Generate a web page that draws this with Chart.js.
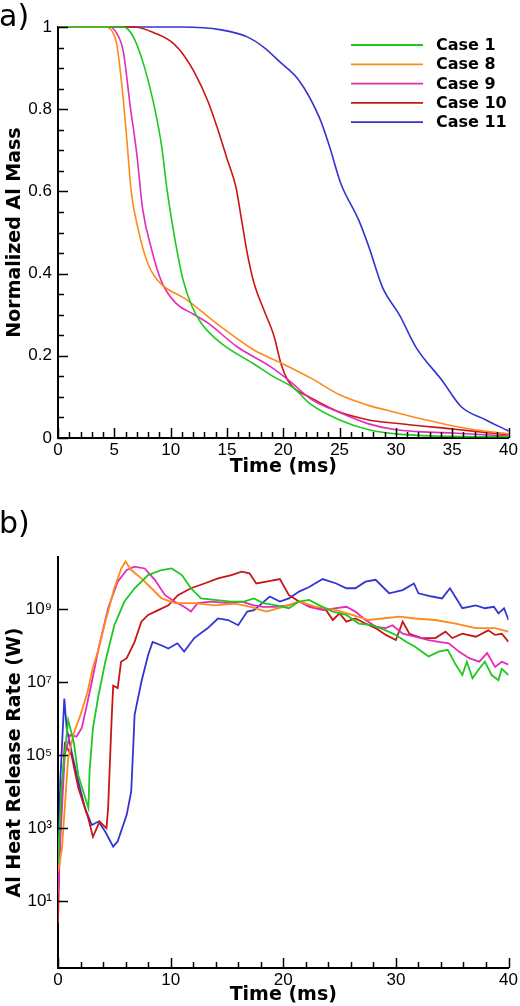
<!DOCTYPE html>
<html>
<head>
<meta charset="utf-8">
<script src="https://cdn.jsdelivr.net/npm/chart.js@4.4.1/dist/chart.umd.min.js"></script>
<style>
  html, body { margin: 0; padding: 0; background: #fff; }
  body { width: 520px; height: 1006px; position: relative; overflow: hidden; }
  canvas { position: absolute; left: 0; }
  #massChart { top: 0; }
  #hrrChart { top: 490px; }
  .panel { position: absolute; left: -1px; font-family: "DejaVu Sans"; font-size: 30px; line-height: 30px; color: #000; }
</style>
</head>
<body>
<canvas id="massChart" width="520" height="478"></canvas>
<canvas id="hrrChart" width="520" height="516"></canvas>
<div class="panel" style="top:1px">a)</div>
<div class="panel" style="top:508px">b)</div>
<script>
const caseNames = ['Case 1', 'Case 8', 'Case 9', 'Case 10', 'Case 11'];

// (a) normalized Al mass vs time (ms)
const massTime1 = [0, 5.7, 6.2, 6.8, 7.7, 8.6, 9.2, 9.7, 10.4, 11.1, 11.9, 12.7, 14.5, 17.4, 18.9, 21, 22.3, 25, 27.6, 30, 35, 40];
const massCase1 = [1, 1, 0.995, 0.97, 0.90, 0.80, 0.71, 0.60, 0.48, 0.385, 0.32, 0.28, 0.23, 0.18, 0.153, 0.12, 0.085, 0.044, 0.02, 0.01, 0.004, 0.003];
const massTime8 = [0, 4.2, 4.8, 5.2, 5.7, 6.1, 6.5, 7.1, 7.9, 8.8, 11.5, 14.5, 17.4, 20, 22.5, 25, 27.5, 30, 32.5, 35, 37.5, 40];
const massCase8 = [1, 1, 0.99, 0.96, 0.85, 0.73, 0.60, 0.51, 0.43, 0.385, 0.335, 0.27, 0.214, 0.18, 0.145, 0.105, 0.08, 0.062, 0.045, 0.03, 0.018, 0.01];
const massTime9 = [0, 4.6, 5.2, 5.8, 6.4, 7.0, 7.5, 8.3, 9.2, 10.4, 12.1, 13.3, 15.9, 18.9, 20.5, 22.6, 25, 27.5, 30, 35, 40];
const massCase9 = [1, 1, 0.985, 0.94, 0.81, 0.69, 0.56, 0.46, 0.38, 0.33, 0.30, 0.28, 0.222, 0.173, 0.14, 0.092, 0.062, 0.035, 0.02, 0.012, 0.005];
const massTime10 = [0, 6.8, 8.6, 10.1, 11.2, 12.1, 13.3, 14.2, 15.0, 15.8, 16.3, 16.8, 17.4, 18.3, 19.2, 19.8, 20.4, 21, 22.3, 25, 27.6, 30, 35, 40];
const massCase10 = [1, 1, 0.985, 0.963, 0.93, 0.89, 0.82, 0.75, 0.68, 0.61, 0.53, 0.45, 0.377, 0.31, 0.246, 0.18, 0.14, 0.12, 0.1, 0.063, 0.044, 0.036, 0.022, 0.008];
const massTime11 = [0, 11, 14.5, 16.8, 18.3, 19.7, 21.4, 23.2, 24.1, 25.1, 26.7, 27.6, 28.8, 30.3, 31.8, 34.1, 35.8, 38, 40];
const massCase11 = [1, 1, 0.993, 0.976, 0.95, 0.915, 0.87, 0.78, 0.71, 0.62, 0.53, 0.465, 0.367, 0.30, 0.22, 0.14, 0.076, 0.044, 0.017];

// (b) Al heat release rate (W) vs time (ms)
const hrrTime1 = [0, 0.3, 0.9, 1.4, 1.8, 2.7, 2.8, 3.1, 3.6, 4.2, 5.0, 5.9, 6.8, 8.0, 9.2, 10.1, 11.0, 11.8, 12.7, 13.9, 15.4, 16.5, 17.4, 18.2, 19.4, 20.5, 21.4, 22.3, 23.2, 24.4, 25.6, 26.7, 27.9, 29.1, 30.0, 30.9, 31.7, 32.9, 33.8, 34.6, 35.3, 35.9, 36.3, 36.8, 37.4, 37.9, 38.5, 39.1, 39.4, 40];
const hrrCase1 = [100, 1.26e4, 9.1e5, 2.3e5, 2.8e4, 3.5e3, 3.5e4, 5.4e5, 4.4e6, 3.6e7, 3.6e8, 1.6e9, 3.7e9, 8.5e9, 1.17e10, 1.29e10, 8.5e9, 3.7e9, 1.95e9, 1.78e9, 1.6e9, 1.6e9, 1.95e9, 1.45e9, 1.26e9, 1.05e9, 1.6e9, 1.78e9, 1.26e9, 8.5e8, 6.9e8, 4.0e8, 3.6e8, 2.6e8, 1.95e8, 1.26e8, 9.3e7, 5.0e7, 6.8e7, 7.6e7, 3.0e7, 1.55e7, 3.6e7, 1.26e7, 2.3e7, 3.6e7, 1.55e7, 1.12e7, 2.3e7, 1.55e7];
const hrrTime8 = [0, 0.35, 0.9, 1.4, 2.0, 2.6, 3.1, 3.6, 4.2, 5.0, 5.6, 6.0, 6.5, 7.4, 8.3, 9.2, 10.4, 12.1, 13.9, 15.7, 17.1, 18.5, 20, 21.4, 22.9, 24.7, 26.1, 27.6, 28.8, 30.3, 31.7, 33.5, 35.3, 37.1, 38.8, 40];
const hrrCase8 = [63, 275, 7.9e4, 4.0e5, 1.26e6, 5.0e6, 2.5e7, 7.9e7, 4.5e8, 3.7e9, 1.26e10, 2.0e10, 1.17e10, 6.9e9, 3.7e9, 1.95e9, 1.45e9, 1.45e9, 1.26e9, 1.41e9, 1.15e9, 8.5e8, 1.15e9, 1.6e9, 1.15e9, 9.3e8, 6.9e8, 5.0e8, 5.5e8, 6.2e8, 5.5e8, 5.0e8, 4.0e8, 3.0e8, 3.0e8, 2.4e8];
const hrrTime9 = [0, 0.2, 0.6, 1.06, 1.65, 2.1, 2.5, 3.0, 3.6, 4.45, 5.3, 6.1, 6.8, 7.7, 8.6, 9.5, 10.35, 11.2, 11.8, 12.4, 13.6, 15.1, 16.3, 17.4, 18.2, 19.4, 20.5, 21.4, 22.3, 23.5, 24.7, 25.6, 26.4, 27.3, 28.2, 29.1, 29.7, 30.6, 31.7, 32.9, 33.8, 34.7, 35.6, 36.5, 37.4, 38.1, 38.8, 39.4, 40];
const hrrCase9 = [16, 400, 1e5, 3.5e5, 3.2e5, 5.4e5, 1.9e6, 1e7, 8.3e7, 1.05e9, 5.6e9, 1.17e10, 1.45e10, 1.29e10, 6.3e9, 2.4e9, 1.6e9, 1.15e9, 8.5e8, 1.45e9, 1.6e9, 1.45e9, 1.6e9, 1.26e9, 1.15e9, 1.15e9, 1.26e9, 1.6e9, 1.15e9, 9.3e8, 1.05e9, 1.15e9, 8.5e8, 5.0e8, 3.3e8, 3.0e8, 3.6e8, 2.1e8, 1.74e8, 1.41e8, 1.26e8, 1.15e8, 6.8e7, 4.5e7, 3.6e7, 6.2e7, 2.6e7, 3.6e7, 3.0e7];
const hrrTime10 = [0, 0.2, 0.6, 1.2, 1.8, 2.7, 3.1, 3.7, 4.3, 4.45, 4.75, 4.9, 5.3, 5.6, 6.1, 6.8, 7.4, 8.0, 8.9, 9.8, 10.65, 11.8, 13.0, 14.2, 15.4, 16.3, 17.0, 17.6, 18.5, 19.7, 20.5, 21.4, 22.6, 23.8, 24.4, 25.0, 25.6, 26.4, 27.3, 28.2, 29.1, 30.0, 30.6, 31.2, 32.3, 33.5, 34.4, 35.0, 35.9, 37.1, 38.2, 38.8, 39.4, 40];
const hrrCase10 = [2.5, 1.5e3, 2.0e5, 1e5, 1.26e4, 1.8e3, 575, 1.5e3, 980, 3.5e3, 7.9e5, 7.9e6, 6.8e6, 3.6e7, 4.5e7, 1.26e8, 4.5e8, 6.9e8, 9.3e8, 1.26e9, 2.4e9, 3.7e9, 5.0e9, 6.9e9, 8.5e9, 1.05e10, 9.5e9, 5.0e9, 5.6e9, 6.6e9, 2.4e9, 1.6e9, 1.15e9, 9.3e8, 5.0e8, 7.6e8, 4.5e8, 5.5e8, 4.0e8, 3.0e8, 1.95e8, 1.41e8, 4.5e8, 2.1e8, 1.6e8, 1.6e8, 2.4e8, 1.6e8, 2.1e8, 1.74e8, 2.6e8, 1.95e8, 2.1e8, 1.26e8];
const hrrTime11 = [0, 0.2, 0.56, 0.77, 1.2, 1.8, 2.4, 3.0, 3.6, 4.2, 4.9, 5.3, 6.1, 6.5, 6.7, 6.8, 7.4, 8.0, 8.4, 9.2, 9.8, 10.6, 11.2, 12.1, 13.3, 14.2, 15.1, 16.0, 16.8, 17.4, 17.9, 18.8, 19.7, 20.5, 21.4, 22.3, 23.5, 24.7, 25.6, 26.4, 27.3, 28.2, 29.4, 30.6, 31.6, 32.0, 33.2, 34.1, 34.8, 35.9, 37.1, 37.9, 38.7, 39.1, 39.6, 40];
const hrrCase11 = [32, 1.9e4, 3.5e6, 5.4e5, 1.26e5, 1.9e4, 3.5e3, 1.2e3, 1.5e3, 790, 310, 430, 2.3e3, 1e4, 2.3e5, 1.26e6, 1e7, 5.5e7, 1.26e8, 1e8, 8.3e7, 1.15e8, 6.8e7, 1.6e8, 3.0e8, 5.5e8, 5.0e8, 3.6e8, 8.5e8, 9.3e8, 1.26e9, 2.2e9, 1.6e9, 1.95e9, 3.0e9, 4.0e9, 6.6e9, 5.0e9, 3.7e9, 3.7e9, 5.6e9, 6.3e9, 2.7e9, 3.3e9, 5.0e9, 2.7e9, 2.2e9, 1.95e9, 3.7e9, 1.05e9, 1.26e9, 1.05e9, 1.15e9, 7.6e8, 1.05e9, 5.0e8];

// ticks
const massXTicks = [0, 5, 10, 15, 20, 25, 30, 35, 40];
const massXMinor = [1, 2, 3, 4, 6, 7, 8, 9, 11, 12, 13, 14, 16, 17, 18, 19, 21, 22, 23, 24, 26, 27, 28, 29, 31, 32, 33, 34, 36, 37, 38, 39];
const massYTicks = [0, 0.2, 0.4, 0.6, 0.8, 1];
const massYMinor = [0.05, 0.1, 0.15, 0.25, 0.3, 0.35, 0.45, 0.5, 0.55, 0.65, 0.7, 0.75, 0.85, 0.9, 0.95];
const hrrXTicks = [0, 10, 20, 30, 40];
const hrrXMinor = [2, 4, 6, 8, 12, 14, 16, 18, 22, 24, 26, 28, 32, 34, 36, 38];
const hrrYTicks = [1e1, 1e3, 1e5, 1e7, 1e9];
const hrrYLabels = ['10¹', '10³', '10⁵', '10⁷', '10⁹'];

const lineColors = ['#1fc81f', '#ff8a1c', '#e22cbc', '#c81616', '#3434d2'];
const tickFont = { family: '"Liberation Sans", Arial, sans-serif', size: 17 };
const titleFont = { family: '"DejaVu Sans", sans-serif', size: 19, weight: 'bold' };

function zip(xs, ys) {
    return xs.map((x, i) => ({ x: x, y: ys[i] }));
}

// inward tick marks, like the original plotting package draws them
function innerTicks(xMajor, xMinor, yMajor, yMinor) {
    return {
        id: 'innerTicks',
        afterDraw(chart) {
            const { ctx, chartArea } = chart;
            const xs = chart.scales.x, ys = chart.scales.y;
            ctx.save();
            ctx.strokeStyle = '#000';
            ctx.lineWidth = 1.5;
            ctx.beginPath();
            const xMark = (v, len) => {
                const px = Math.round(xs.getPixelForValue(v)) + 0.5;
                ctx.moveTo(px, chartArea.bottom);
                ctx.lineTo(px, chartArea.bottom - len);
            };
            const yMark = (v, len) => {
                const py = Math.round(ys.getPixelForValue(v)) + 0.5;
                ctx.moveTo(chartArea.left, py);
                ctx.lineTo(chartArea.left + len, py);
            };
            xMajor.forEach(v => xMark(v, 10));
            xMinor.forEach(v => xMark(v, 6));
            yMajor.forEach(v => yMark(v, 10));
            yMinor.forEach(v => yMark(v, 6));
            ctx.stroke();
            ctx.restore();
        }
    };
}

const insideLegend = {
    id: 'insideLegend',
    afterDraw(chart) {
        const ctx = chart.ctx;
        ctx.save();
        ctx.font = 'bold 16px "DejaVu Sans"';
        ctx.textBaseline = 'middle';
        ctx.fillStyle = '#000';
        chart.data.datasets.forEach((ds, i) => {
            const y = 45 + i * 19.3;
            ctx.strokeStyle = ds.borderColor;
            ctx.lineWidth = 1.8;
            ctx.beginPath();
            ctx.moveTo(351, y);
            ctx.lineTo(423, y);
            ctx.stroke();
            ctx.fillText(ds.label, 436, y + 1);
        });
        ctx.restore();
    }
};

function axisBase() {
    return {
        type: 'linear',
        grid: { display: false, drawTicks: false },
        border: { display: true, color: '#000', width: 2 },
    };
}

const massSets = [
    zip(massTime1, massCase1), zip(massTime8, massCase8), zip(massTime9, massCase9),
    zip(massTime10, massCase10), zip(massTime11, massCase11)
];

new Chart(document.getElementById('massChart'), {
    type: 'line',
    data: {
        datasets: massSets.map((d, i) => ({
            label: caseNames[i],
            data: d,
            borderColor: lineColors[i],
            borderWidth: 1.6,
            pointRadius: 0,
            cubicInterpolationMode: 'monotone',
            clip: false
        }))
    },
    options: {
        responsive: false,
        animation: false,
        layout: { padding: { top: 27, right: 10, left: 0, bottom: 0 } },
        plugins: { legend: { display: false }, tooltip: { enabled: false } },
        scales: {
            x: Object.assign(axisBase(), {
                min: 0, max: 40,
                afterBuildTicks: s => { s.ticks = massXTicks.map(v => ({ value: v })); },
                afterFit: s => { s.height = 40; },
                ticks: { color: '#000', font: tickFont, padding: 2, maxRotation: 0, autoSkip: false },
                title: { display: true, text: 'Time (ms)', color: '#000', font: titleFont, padding: 0 }
            }),
            y: Object.assign(axisBase(), {
                min: 0, max: 1,
                afterBuildTicks: s => { s.ticks = massYTicks.map(v => ({ value: v })); },
                afterFit: s => { s.width = 58; },
                ticks: { color: '#000', font: tickFont, padding: 6, autoSkip: false, callback: v => String(v) },
                title: { display: true, text: 'Normalized Al Mass', color: '#000', font: titleFont, padding: { top: 4, bottom: 0 } }
            })
        }
    },
    plugins: [innerTicks(massXTicks, massXMinor, massYTicks, massYMinor), insideLegend]
});

const hrrSets = [
    zip(hrrTime1, hrrCase1), zip(hrrTime8, hrrCase8), zip(hrrTime9, hrrCase9),
    zip(hrrTime10, hrrCase10), zip(hrrTime11, hrrCase11)
];

new Chart(document.getElementById('hrrChart'), {
    type: 'line',
    data: {
        datasets: hrrSets.map((d, i) => ({
            label: caseNames[i],
            data: d,
            borderColor: lineColors[i],
            borderWidth: 1.8,
            pointRadius: 0,
            tension: 0
        }))
    },
    options: {
        responsive: false,
        animation: false,
        layout: { padding: { top: 67, right: 10, left: 0, bottom: 0 } },
        plugins: { legend: { display: false }, tooltip: { enabled: false } },
        scales: {
            x: Object.assign(axisBase(), {
                min: 0, max: 40,
                afterBuildTicks: s => { s.ticks = hrrXTicks.map(v => ({ value: v })); },
                afterFit: s => { s.height = 38; },
                ticks: { color: '#000', font: tickFont, padding: 2, maxRotation: 0, autoSkip: false },
                title: { display: true, text: 'Time (ms)', color: '#000', font: titleFont, padding: 0 }
            }),
            y: Object.assign(axisBase(), {
                type: 'logarithmic',
                min: 0.146, max: 2.66e10,
                afterBuildTicks: s => { s.ticks = hrrYTicks.map(v => ({ value: v })); },
                afterFit: s => { s.width = 58; },
                ticks: { color: '#000', font: tickFont, padding: 6, autoSkip: false, callback: v => hrrYLabels[hrrYTicks.indexOf(v)] },
                title: { display: true, text: 'Al Heat Release Rate (W)', color: '#000', font: titleFont, padding: { top: 4, bottom: 0 } }
            })
        }
    },
    plugins: [innerTicks(hrrXTicks, hrrXMinor, hrrYTicks, [])]
});
</script>
</body>
</html>
